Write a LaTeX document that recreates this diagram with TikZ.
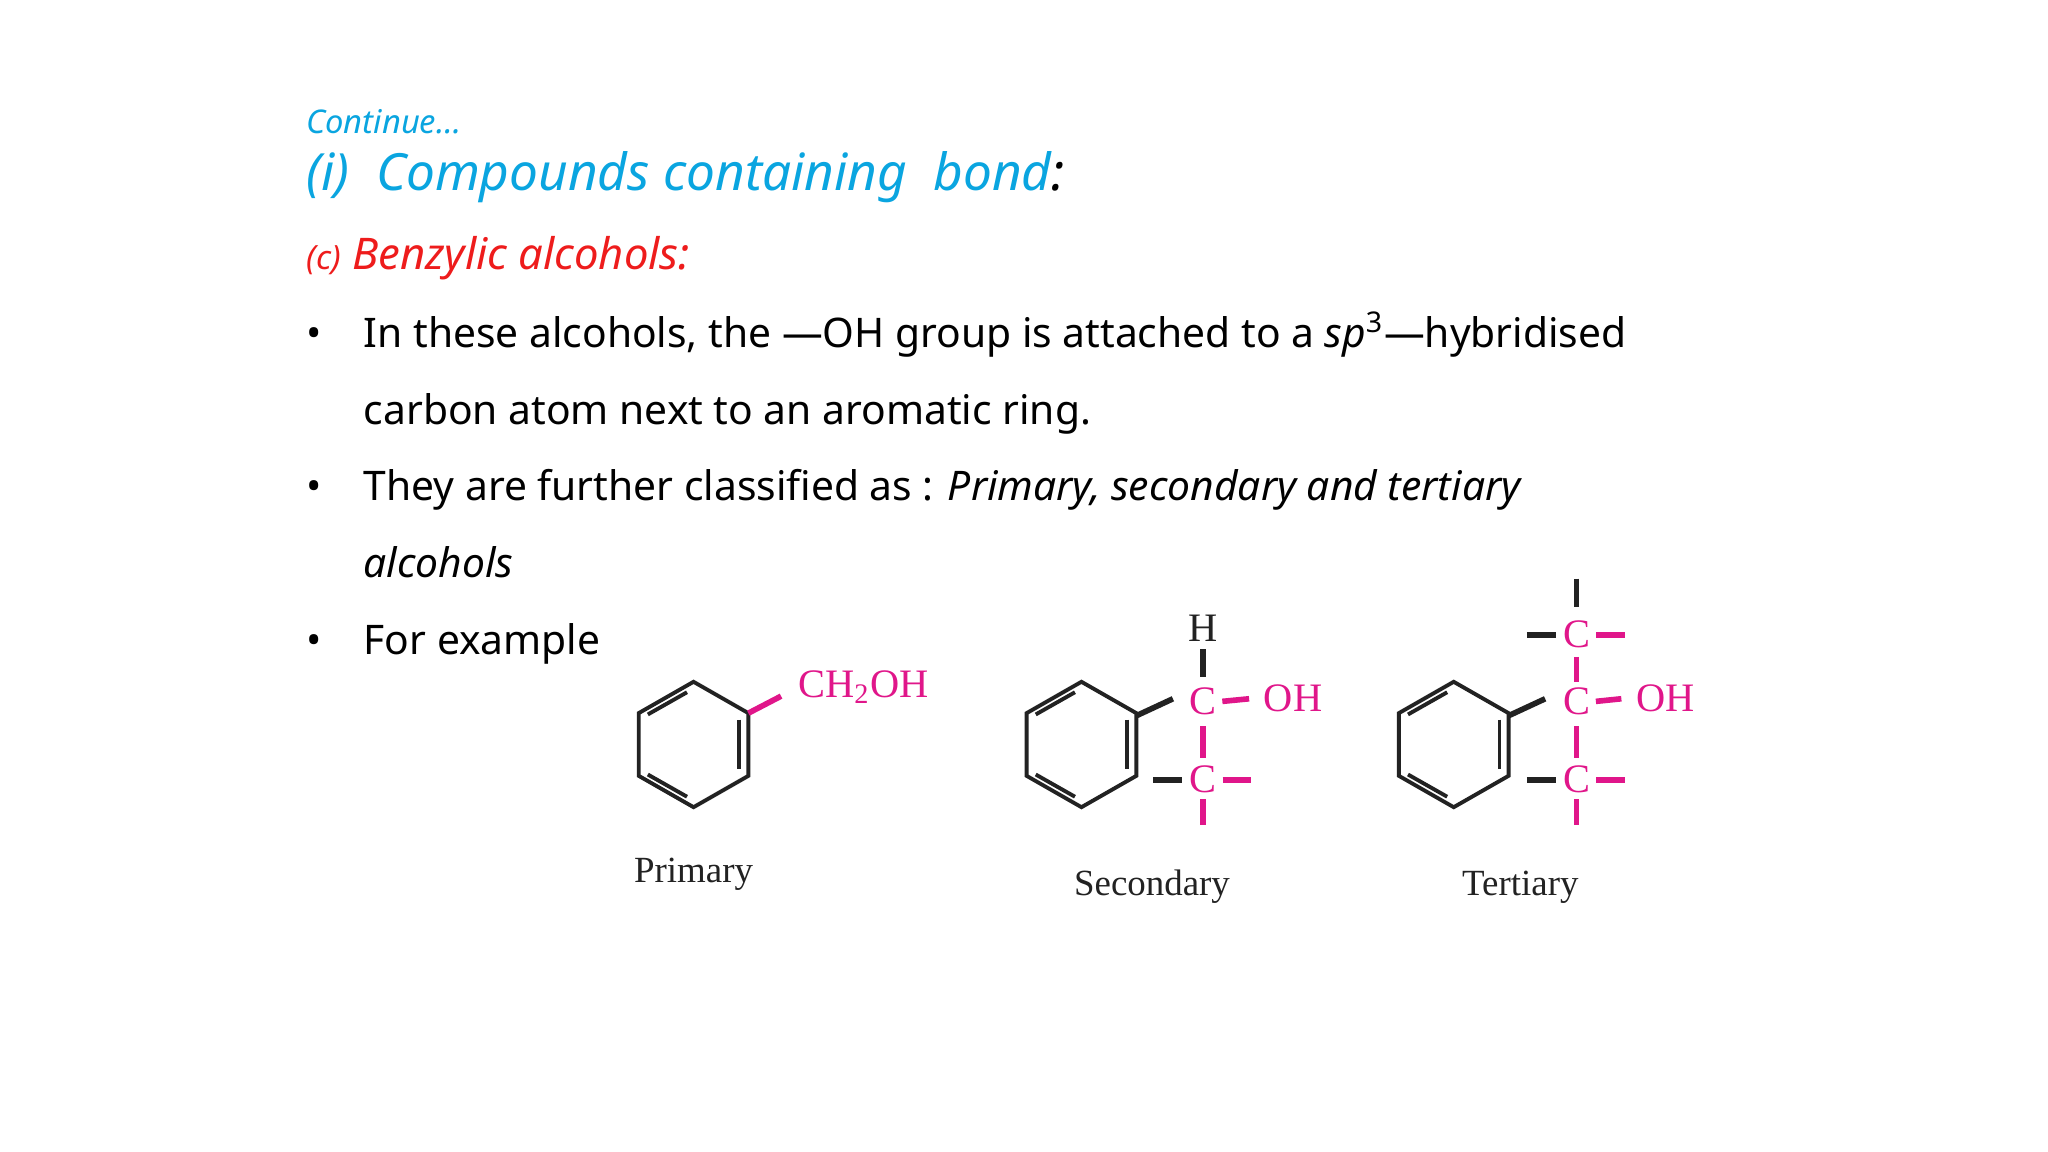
\documentclass[tikz,border=0pt]{standalone}
\usepackage{fontspec}
\setmainfont{Noto Sans}
\newfontfamily\chemf{Liberation Serif}
\definecolor{tblue}{HTML}{0AA5E0}
\definecolor{tred}{HTML}{EE1C1C}
\definecolor{mag}{HTML}{E0168A}
\definecolor{ink}{HTML}{222222}
\begin{document}
\begin{tikzpicture}[x=0.013061cm,y=-0.013061cm,
  txt/.style={anchor=base west,inner sep=0pt,font=\fontsize{11.6pt}{14pt}\selectfont},
  ch/.style={inner sep=0pt,font=\chemf\fontsize{11.5pt}{13pt}\selectfont},
  lab/.style={inner sep=0pt,font=\chemf\fontsize{10.5pt}{13pt}\selectfont,text=ink},
  bk/.style={draw=ink,line width=1.6pt},
  mg/.style={draw=mag,line width=1.6pt},
  ring/.style={draw=ink,line width=1.1pt}]
\useasboundingbox (0,0) rectangle (1568,882);
\fill[white] (0,0) rectangle (1568,882);
\node[txt,text=tblue,font=\fontsize{9.3pt}{11pt}\selectfont\itshape] (cont) at (234,102) {Continue…};
\node[txt,font=\fontsize{14.6pt}{17pt}\selectfont\itshape] (title) at (234,146) {\textcolor{tblue}{(i)\ \ Compounds containing\ \ bond}:};
\node[txt,text=tred,font=\fontsize{12.4pt}{15pt}\selectfont\itshape] (sub) at (234,206) {{\fontsize{9.5pt}{11pt}\selectfont (c)} Benzylic alcohols:};
\foreach \yy/\nm in {266/b1,383/b2,501/b3} \node[txt] (\nm) at (234,\yy) {•};
\node[txt] (l1) at (278,266) {In these alcohols, the —OH group is attached to a \textit{sp}\textsuperscript{3}—hybridised};
\node[txt] (l2) at (278,325) {carbon atom next to an aromatic ring.};
\node[txt] (l3) at (278,383) {They are further classified as : \textit{Primary, secondary and tertiary}};
\node[txt] (l4) at (278,442) {\textit{alcohols}};
\node[txt] (l5) at (278,501) {For example};
% rings
\foreach \cx/\nm in {531/r1,828/r2,1113/r3}{
  \coordinate (\nm) at (\cx,570);
  \draw[ring] (\cx,522) -- (\cx+42,546) -- (\cx+42,594) -- (\cx,618) -- (\cx-42,594) -- (\cx-42,546) -- cycle;
  \draw[ring] (\cx-5,530) -- (\cx-35,547);
  \draw[ring] (\cx+35,551) -- (\cx+35,589);
  \draw[ring] (\cx-35,593) -- (\cx-5,610);
}
% primary
\node[ch,text=mag] (p) at (661,526) {CH\textsubscript{2}OH};
\draw[mg] (573,546) -- (598,533);
\node[lab] (pl) at (531,669) {Primary};
% secondary
\node[ch,text=mag] (sC) at (921,537) {C};
\node[ch,text=mag] (sOH) at (990,535) {OH};
\node[ch,text=ink] (sH) at (921,481) {H};
\node[ch,text=mag] (sC2) at (921,597) {C};
\draw[bk] (870,548) -- (898,535);
\draw[mg] (sC.east)++(4,0) -- ([xshift=-4]sOH.west);
\draw[bk] (921,497) -- (921,518);
\draw[mg] (921,556) -- (921,580);
\draw[bk] (883,597) -- (905,597);
\draw[mg] (936,597) -- (958,597);
\draw[mg] (921,612) -- (921,632);
\node[lab] (sl) at (882,679) {Secondary};
% tertiary
\node[ch,text=mag] (tC1) at (1207,486) {C};
\node[ch,text=mag] (tC) at (1207,537) {C};
\node[ch,text=mag] (tOH) at (1275,535) {OH};
\node[ch,text=mag] (tC2) at (1207,597) {C};
\draw[bk] (1155,548) -- (1183,535);
\draw[bk] (1207,443) -- (1207,465);
\draw[bk] (1169,486) -- (1191,486);
\draw[mg] (1222,486) -- (1244,486);
\draw[mg] (1207,503) -- (1207,522);
\draw[mg] (tC.east)++(4,0) -- ([xshift=-4]tOH.west);
\draw[mg] (1207,556) -- (1207,580);
\draw[bk] (1169,597) -- (1191,597);
\draw[mg] (1222,597) -- (1244,597);
\draw[mg] (1207,612) -- (1207,632);
\node[lab] (tl) at (1164,679) {Tertiary};
\end{tikzpicture}
\end{document}
